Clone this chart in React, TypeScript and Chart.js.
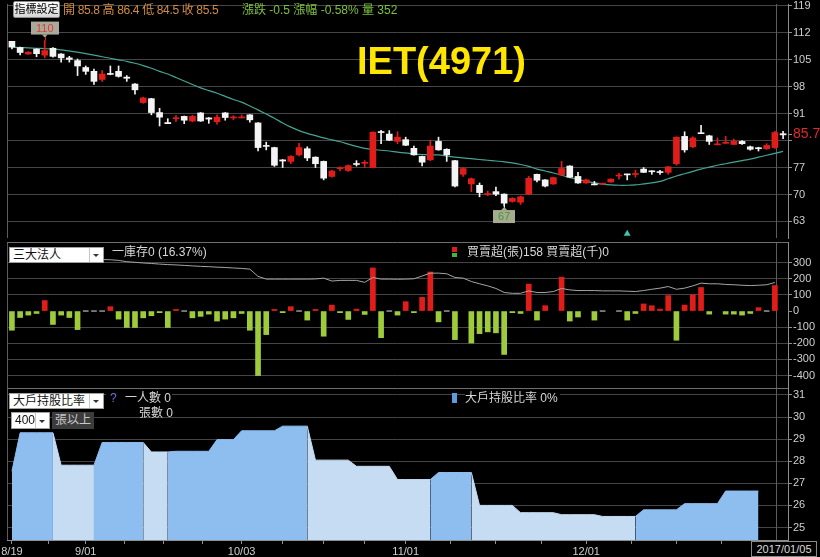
import React, { useEffect, useRef } from 'react';
import { Chart, registerables } from 'chart.js';

Chart.register(...registerables);

// ---------------- data ----------------
const X_MIN = -0.6;
const X_MAX = 94.6;
const DATE_TICK_IDX = [0, 9, 28, 48, 70];
const DATE_TICK_LABELS = ['8/19', '9/01', '10/03', '11/01', '12/01'];
const MINOR_TICK_IDX = [4.5, 13.75, 18.5, 23.25, 33, 38, 43, 53.5, 59, 64.5, 75.5, 81, 86.5];
const CURSOR_IDX = 93.15;
const CURSOR_DATE = '2017/01/05';

const OPEN = [
  109.8, 108.2, 106.5, 107.8, 106.2, 108.0, 106.5, 105.5, 104.8, 103.0,
  102.0, 99.9, 101.3, 102.0, 100.5, 98.7, 93.9, 94.9, 91.3, 88.7,
  89.7, 90.3, 89.1, 91.2, 89.9, 88.9, 91.2, 89.9, 89.9, 90.7,
  88.6, 82.7, 82.2, 79.0, 78.6, 80.3, 81.9, 79.7, 78.6, 74.7,
  76.7, 76.25, 78.0, 78.1, 77.0, 86.3, 85.7, 83.8, 84.25, 82.0,
  79.9, 79.0, 83.8, 81.75, 78.8, 75.25, 72.75, 72.4, 70.0, 70.75,
  70.1, 68.2, 68.0, 70.1, 75.25, 73.8, 72.75, 75.1, 77.4, 74.7,
  73.0, 72.7, 72.7, 73.25, 74.8, 75.3, 75.2, 76.6, 76.1, 75.8,
  75.75, 78.0, 85.1, 82.4, 86.0, 85.25, 82.9, 83.3, 83.0, 83.8,
  82.4, 82.1, 81.9, 82.2, 85.8,
];
const HIGH = [
  109.8, 108.3, 107.1, 107.9, 110.0, 108.2, 106.6, 105.9, 105.2, 103.4,
  102.6, 102.2, 103.4, 103.4, 100.9, 98.8, 95.3, 95.0, 92.4, 89.7,
  90.5, 90.4, 90.6, 91.3, 90.0, 90.7, 91.3, 90.5, 90.7, 90.8,
  88.7, 83.6, 82.3, 79.1, 80.1, 83.3, 82.4, 79.8, 78.7, 76.3,
  77.2, 77.7, 78.8, 78.8, 86.3, 86.7, 86.6, 86.3, 84.9, 82.6,
  80.0, 84.1, 84.9, 81.9, 78.9, 76.9, 74.3, 73.0, 70.9, 71.9,
  70.2, 69.2, 69.6, 74.7, 75.3, 73.9, 74.5, 78.6, 77.5, 75.75,
  74.0, 73.4, 72.9, 74.1, 75.5, 75.3, 76.3, 77.0, 76.2, 76.3,
  77.3, 85.0, 86.3, 85.0, 88.0, 85.4, 84.7, 85.1, 84.4, 84.0,
  82.6, 82.3, 83.2, 86.4, 86.4,
];
const LOW = [
  107.8, 106.3, 106.4, 105.8, 105.5, 105.7, 104.4, 104.4, 100.9, 101.2,
  98.6, 99.4, 101.1, 100.5, 99.4, 96.1, 93.7, 90.7, 87.8, 88.4,
  89.0, 88.4, 88.9, 89.0, 88.5, 88.3, 89.3, 89.4, 89.9, 88.8,
  81.3, 81.6, 77.3, 77.0, 78.0, 80.0, 78.8, 77.0, 73.8, 74.5,
  76.1, 76.0, 77.4, 77.0, 76.9, 83.2, 84.0, 83.2, 82.7, 80.2,
  77.4, 78.8, 81.5, 78.6, 72.0, 74.7, 70.75, 69.4, 69.7, 69.7,
  67.0, 68.0, 67.4, 70.0, 73.25, 72.0, 72.6, 75.0, 74.4, 72.9,
  72.9, 72.5, 72.7, 73.2, 74.0, 73.8, 74.5, 75.7, 75.25, 75.25,
  75.25, 77.6, 81.0, 82.2, 85.8, 83.0, 82.9, 83.3, 83.0, 83.0,
  81.5, 81.3, 81.7, 82.0, 84.5,
];
const CLOSE = [
  108.3, 106.9, 107.0, 106.6, 107.4, 105.9, 105.5, 105.1, 103.4, 102.0,
  99.4, 101.3, 101.2, 100.7, 100.2, 97.2, 95.1, 91.3, 90.1, 88.4,
  89.9, 89.3, 90.3, 89.1, 89.6, 90.1, 90.0, 90.0, 90.0, 89.4,
  82.2, 82.5, 77.6, 78.7, 79.9, 82.2, 79.5, 78.0, 74.25, 76.1,
  76.9, 77.5, 77.8, 78.3, 86.2, 86.1, 84.1, 84.9, 82.8, 80.3,
  78.4, 82.6, 81.6, 80.3, 72.2, 76.75, 74.1, 70.5, 70.2, 70.1,
  67.75, 69.0, 69.4, 74.2, 73.7, 72.2, 74.4, 76.75, 74.5, 73.0,
  73.8, 72.5, 72.85, 74.0, 75.0, 75.1, 75.3, 75.75, 75.9, 75.7,
  77.2, 84.9, 81.6, 84.7, 85.8, 83.8, 83.1, 83.5, 83.8, 83.2,
  81.75, 81.9, 82.75, 86.1, 85.5,
];
const MA20 = [
  108.3, 108.2, 108.1, 108.0, 107.9, 107.8, 107.6, 107.3, 107.0, 106.6,
  106.2, 105.8, 105.4, 105.0, 104.6, 104.1, 103.5, 102.8, 102.0, 101.3,
  100.4, 99.5, 98.6, 97.7, 97.0, 96.3, 95.5, 94.7, 94.0, 93.0,
  92.0, 90.9, 89.8, 88.6, 87.5, 86.6, 85.9, 85.3, 84.7, 84.2,
  83.7, 83.1, 82.5, 82.0, 81.7, 81.5, 81.3, 81.0, 80.8, 80.5,
  80.4, 80.3, 80.3, 80.0, 79.7, 79.5, 79.3, 79.1, 78.9, 78.7,
  78.5, 78.2, 77.8, 77.3, 76.6, 76.1, 75.6, 75.0, 74.4, 73.9,
  73.4, 73.0, 72.7, 72.5, 72.4, 72.4, 72.5, 72.75, 73.0, 73.4,
  74.1, 74.8, 75.4, 76.0, 76.6, 77.1, 77.6, 78.0, 78.4, 78.8,
  79.2, 79.7, 80.2, 80.7, 81.2,
];
const PRICE_TICKS = [63, 70, 77, 84, 85.7, 91, 98, 105, 112, 119];
const LAST_PRICE_TICK = 85.7;
const HIDDEN_PRICE_LABEL = 84;
const SIGNAL_IDX = [75];
const SIGNAL_PRICE = [59.8];

const NET_BUY = [
  -119, -40, -25, -15, 65, -83, -25, -40, -115, 0,
  0, 0, 27, -50, -102, -102, -42, -29, -10, -102,
  10, 0, -42, -33, -19, -62, -50, -42, -15, -119,
  -400, -146, 10, -10, 27, 0, -56, 10, -156, 37,
  -10, -52, 12, -21, 267, -165, 0, -25, 58, -10,
  85, 242, -67, 0, -177, null, -198, -140, -129, -135,
  -269, -10, -15, 167, -56, 33, null, 210, -62, -37,
  null, -56, 0, null, 0, -56, -15, 44, 33, 12,
  96, -181, 37, 100, 146, -19, null, -19, -19, -25,
  -15, 21, 0, 158, null,
];
const HOLDINGS = [
  322, 322, 321, 321, 321, 320, 320, 320, 319, 319,
  319, 319, 318, 314, 306, 302, 298, 295, 291, 288,
  286, 283, 280, 277, 275, 272, 270, 267, 264, 260,
  215, 198, 198, 198, 198, 198, 198, 199, 204, 186,
  190, 190, 190, 178, 208, 198, 198, 197, 198, 200,
  217, 235, 235, 231, 208, 204, 183, 169, 156, 140,
  115, 110, 110, 125, 115, 115, 121, 140, 131, 127,
  127, 127, 125, 125, 125, 123, 121, 127, 135, 142,
  152, 135, 142, 156, 173, 169, 169, 165, 163, 160,
  158, 160, 163, 177, null,
];
const NET_TICKS = [-400, -300, -200, -100, 0, 100, 200, 300];

const HOLDER_WEEK_START = [0, 1, 6, 11, 17, 20, 25, 28, 33, 37, 42, 47, 52, 57, 62, 67, 72, 77, 82, 87];
const HOLDER_WEEK_RATIO = [27.55, 29.29, 27.82, 28.85, 28.42, 28.45, 28.98, 29.38, 29.59, 28.05, 27.77, 27.17, 27.49, 26.0, 25.67, 25.58, 25.5, 25.8, 26.08, 26.65];
const HOLDER_LAST_IDX = 91;
const RATIO_TICKS = [25, 26, 27, 28, 29, 30, 31];

// ---------------- styles ----------------
const RED = '#e11d1a';
const WHITE = '#f4f4f4';
const GREEN_BAR = '#9dcb3b';
const ZERO_BAR = '#8a8a8a';
const GRID = '#454545';
const AXIS = '#8e8e8e';
const FRAME = '#5c5c5c';
const SEP = '#6e6e6e';
const TXT = '#cfcfcf';
const MA_COLOR = '#46a493';
const HOLD_COLOR = '#a5a5a5';
const AREA_UP = '#8ebdf0';
const AREA_DOWN = '#c6dcf3';
const TICK_FONT = { family: '"Liberation Sans", Arial, sans-serif', size: 11 };
const UI_FONT = '"Liberation Sans", "Noto Sans CJK TC", sans-serif';

const X_TICKS = [...DATE_TICK_IDX, ...MINOR_TICK_IDX].sort((a, b) => a - b);

function xScale(display: boolean): any {
  return {
    type: 'linear',
    min: X_MIN,
    max: X_MAX,
    offset: false,
    display,
    grid: { display, offset: false, drawOnChartArea: false, drawTicks: true, tickLength: 4, tickColor: AXIS },
    border: { display, color: AXIS },
    afterBuildTicks: (s: any) => { s.ticks = X_TICKS.map((v) => ({ value: v })); },
    afterFit: (s: any) => { if (display) s.height = 17; s.paddingLeft = 0; s.paddingRight = 0; },
    ticks: {
      display,
      autoSkip: false,
      maxRotation: 0,
      minRotation: 0,
      padding: 1,
      color: TXT,
      font: TICK_FONT,
      callback: (v: any) => {
        const k = DATE_TICK_IDX.indexOf(v);
        return k >= 0 ? DATE_TICK_LABELS[k] : '';
      },
    },
  };
}

function yScale(min: number, max: number, ticks: number[], extra: any = {}): any {
  return {
    type: 'linear',
    position: 'right',
    min,
    max,
    afterBuildTicks: (s: any) => { s.ticks = ticks.map((v) => ({ value: v })); },
    afterFit: (s: any) => { s.width = 32; s.paddingTop = 0; s.paddingBottom = 0; },
    grid: { color: extra.gridColor || GRID, tickColor: AXIS, tickLength: 4, drawTicks: true },
    border: { color: AXIS },
    ticks: {
      padding: 1,
      color: extra.tickColor || TXT,
      font: extra.tickFont || TICK_FONT,
      callback: extra.callback || ((v: any) => String(v)),
    },
  };
}

function drawTag(ctx: any, cx: number, tipY: number, text: string, textColor: string, fill: string, stem: string, below: boolean) {
  const w = text.length * 6 + 10;
  const h = 13;
  const gap = below ? 4 : 6;
  const top = below ? tipY + gap : tipY - gap - h;
  ctx.save();
  ctx.strokeStyle = stem;
  ctx.lineWidth = 1;
  ctx.beginPath();
  const sx = Math.round(cx) + 0.5;
  if (below) { ctx.moveTo(sx, tipY); ctx.lineTo(sx, top); } else { ctx.moveTo(sx, tipY); ctx.lineTo(sx, top + h); }
  ctx.stroke();
  ctx.fillStyle = fill;
  ctx.fillRect(Math.round(cx - w / 2), top, w, h);
  ctx.beginPath();
  if (below) { ctx.moveTo(cx - 3, top); ctx.lineTo(cx + 3, top); ctx.lineTo(cx, top - 3); }
  else { ctx.moveTo(cx - 3, top + h); ctx.lineTo(cx + 3, top + h); ctx.lineTo(cx, top + h + 3); }
  ctx.closePath();
  ctx.fill();
  ctx.fillStyle = textColor;
  ctx.font = '11px "Liberation Sans", Arial, sans-serif';
  ctx.textAlign = 'center';
  ctx.textBaseline = 'middle';
  ctx.fillText(text, cx, top + h / 2 + 0.5);
  ctx.restore();
}

const overlayPlugin: any = {
  id: 'overlay',
  beforeDatasetsDraw(chart: any, _a: any, opts: any) {
    const { ctx, chartArea: a } = chart;
    const xs = chart.scales.x;
    ctx.save();
    ctx.lineWidth = 1;
    ctx.strokeStyle = FRAME;
    ctx.beginPath();
    ctx.moveTo(a.left + 0.5, a.top);
    ctx.lineTo(a.left + 0.5, a.bottom);
    const cx = Math.round(xs.getPixelForValue(CURSOR_IDX)) + 0.5;
    ctx.moveTo(cx, a.top);
    ctx.lineTo(cx, a.bottom);
    ctx.stroke();
    if (opts && opts.topLine) {
      ctx.strokeStyle = SEP;
      ctx.beginPath();
      ctx.moveTo(a.left, a.top + 0.5);
      ctx.lineTo(a.right, a.top + 0.5);
      ctx.stroke();
    }
    ctx.restore();
  },
  afterDatasetsDraw(chart: any, _a: any, opts: any) {
    if (!opts || !opts.extremes) return;
    const xs = chart.scales.x;
    const ys = chart.scales.y;
    const hi = Math.max(...HIGH);
    const lo = Math.min(...LOW);
    const hiIdx = HIGH.indexOf(hi);
    const loIdx = LOW.indexOf(lo);
    const hiColor = CLOSE[hiIdx] > OPEN[hiIdx] ? RED : WHITE;
    const loColor = CLOSE[loIdx] > OPEN[loIdx] ? RED : WHITE;
    drawTag(chart.ctx, xs.getPixelForValue(hiIdx), ys.getPixelForValue(hi), String(Math.round(hi)), '#e23a3a', '#a9a99a', hiColor, false);
    drawTag(chart.ctx, xs.getPixelForValue(loIdx), ys.getPixelForValue(lo), String(Math.round(lo)), '#3f9a38', '#a6aa90', loColor, true);
  },
};

function Dropdown({ left, top, width, height, text }: any) {
  return (
    <div style={{ position: 'absolute', left, top, width, height, boxSizing: 'border-box', background: '#fff', border: '1px solid #a0a0a0', font: `12px ${UI_FONT}`, color: '#111', lineHeight: `${height - 2}px`, paddingLeft: 3, whiteSpace: 'nowrap', overflow: 'hidden' }}>
      {text}
      <div style={{ position: 'absolute', right: 0, top: 0, bottom: 0, width: 13, borderLeft: '1px solid #c8c8c8', background: '#fff' }}>
        <div style={{ position: 'absolute', left: 3, top: Math.round((height - 2) / 2) - 1, width: 0, height: 0, borderLeft: '3px solid transparent', borderRight: '3px solid transparent', borderTop: '3px solid #333' }} />
      </div>
    </div>
  );
}

export default function App() {
  const topRef = useRef<HTMLCanvasElement>(null);
  const midRef = useRef<HTMLCanvasElement>(null);
  const botRef = useRef<HTMLCanvasElement>(null);

  useEffect(() => {
    const idx = OPEN.map((_, i) => i);
    const up = idx.map((i) => CLOSE[i] > OPEN[i]);
    const candleColor = idx.map((i) => (up[i] ? RED : WHITE));

    const top = new Chart(topRef.current as any, {
      type: 'bar',
      data: {
        datasets: [
          {
            type: 'bar',
            data: idx.map((i) => ({ x: i, y: [OPEN[i], CLOSE[i]] })),
            backgroundColor: candleColor,
            barThickness: 6,
            minBarLength: 1,
            grouped: false,
            order: 1,
          } as any,
          {
            type: 'bar',
            data: idx.map((i) => ({ x: i, y: [LOW[i], HIGH[i]] })),
            backgroundColor: candleColor,
            barThickness: 1,
            grouped: false,
            order: 2,
          } as any,
          {
            type: 'line',
            data: idx.map((i) => ({ x: i, y: MA20[i] })),
            borderColor: MA_COLOR,
            borderWidth: 1.2,
            pointRadius: 0,
            tension: 0.3,
            order: 3,
          } as any,
          {
            type: 'line',
            data: SIGNAL_IDX.map((v, k) => ({ x: v, y: SIGNAL_PRICE[k] })),
            showLine: false,
            pointStyle: 'triangle',
            pointRadius: 4,
            pointBackgroundColor: '#3fc4b2',
            pointBorderWidth: 0,
            order: 0,
          } as any,
        ],
      },
      options: {
        responsive: false,
        animation: false,
        events: [],
        layout: { padding: { left: 7, right: 0, top: 0, bottom: 0 } },
        plugins: { legend: { display: false }, tooltip: { enabled: false }, overlay: { extremes: true } } as any,
        scales: {
          x: xScale(false),
          y: yScale(58.7, 119.5, PRICE_TICKS, {
            gridColor: (c: any) => (c.tick && c.tick.value === LAST_PRICE_TICK ? 'rgba(0,0,0,0)' : GRID),
            tickColor: (c: any) => (c.tick && c.tick.value === LAST_PRICE_TICK ? '#e22a2a' : TXT),
            tickFont: (c: any) => ({ ...TICK_FONT, size: c.tick && c.tick.value === LAST_PRICE_TICK ? 14 : 11 }),
            callback: (v: any) => (v === HIDDEN_PRICE_LABEL ? '' : String(v)),
          }),
        },
      } as any,
      plugins: [overlayPlugin],
    });

    const mid = new Chart(midRef.current as any, {
      type: 'bar',
      data: {
        datasets: [
          {
            type: 'bar',
            data: idx.map((i) => ({ x: i, y: NET_BUY[i] })),
            backgroundColor: NET_BUY.map((v) => (v === null ? GREEN_BAR : v > 0 ? RED : v < 0 ? GREEN_BAR : ZERO_BAR)),
            barThickness: 5,
            minBarLength: 1,
            grouped: false,
            order: 2,
          } as any,
          {
            type: 'line',
            data: idx.map((i) => ({ x: i, y: HOLDINGS[i] })),
            borderColor: HOLD_COLOR,
            borderWidth: 1,
            pointRadius: 0,
            tension: 0,
            order: 1,
          } as any,
        ],
      },
      options: {
        responsive: false,
        animation: false,
        events: [],
        layout: { padding: { left: 7, right: 0, top: 0, bottom: 0 } },
        plugins: { legend: { display: false }, tooltip: { enabled: false }, overlay: { topLine: true } } as any,
        scales: {
          x: xScale(false),
          y: yScale(-477, 428, NET_TICKS, {
            gridColor: (c: any) => (c.tick && c.tick.value === 0 ? 'rgba(0,0,0,0)' : GRID),
          }),
        },
      } as any,
      plugins: [overlayPlugin],
    });

    const ratioDays: number[] = [];
    const ratioUp: boolean[] = [];
    for (let i = 0; i <= HOLDER_LAST_IDX; i++) {
      let k = 0;
      for (let j = 0; j < HOLDER_WEEK_START.length; j++) if (HOLDER_WEEK_START[j] <= i) k = j;
      ratioDays.push(HOLDER_WEEK_RATIO[k]);
      ratioUp.push(k === 0 || HOLDER_WEEK_RATIO[k] >= HOLDER_WEEK_RATIO[k - 1]);
    }
    const segColor = (c: any) => (ratioUp[c.p1DataIndex] ? AREA_UP : AREA_DOWN);

    const bot = new Chart(botRef.current as any, {
      type: 'line',
      data: {
        datasets: [
          {
            data: ratioDays.map((v, i) => ({ x: i, y: v })),
            borderColor: AREA_UP,
            backgroundColor: AREA_UP,
            borderWidth: 1,
            pointRadius: 0,
            tension: 0,
            fill: 'start',
            segment: { backgroundColor: segColor, borderColor: segColor },
          } as any,
        ],
      },
      options: {
        responsive: false,
        animation: false,
        events: [],
        layout: { padding: { left: 7, right: 0, top: 0, bottom: 0 } },
        plugins: { legend: { display: false }, tooltip: { enabled: false }, overlay: { topLine: true } } as any,
        scales: {
          x: xScale(true),
          y: yScale(24.433, 31.317, RATIO_TICKS),
        },
      } as any,
      plugins: [overlayPlugin],
    });

    return () => {
      top.destroy();
      mid.destroy();
      bot.destroy();
    };
  }, []);

  const legendText: any = { position: 'absolute', font: `12px ${UI_FONT}`, color: '#d8d8d8', whiteSpace: 'nowrap', lineHeight: '14px' };

  return (
    <div style={{ position: 'fixed', left: 0, top: 0, width: 820, height: 557, background: '#000', overflow: 'hidden' }}>
      <canvas ref={topRef} width={820} height={242} style={{ position: 'absolute', left: 0, top: 0 }} />
      <canvas ref={midRef} width={820} height={146} style={{ position: 'absolute', left: 0, top: 242 }} />
      <canvas ref={botRef} width={820} height={169} style={{ position: 'absolute', left: 0, top: 388 }} />

      {/* header */}
      <div style={{ position: 'absolute', left: 13, top: 1, width: 47, height: 17, boxSizing: 'border-box', border: '1px solid #8a8a8a', borderRadius: 2, background: 'linear-gradient(#ffffff, #d6d6d6)', font: `11px ${UI_FONT}`, color: '#000', textAlign: 'center', lineHeight: '15px', whiteSpace: 'nowrap', overflow: 'hidden' }}>指標設定</div>
      <div style={{ ...legendText, left: 63, top: 3, color: '#d08c42', letterSpacing: '-0.35px' }}>開 85.8 高 86.4 低 84.5 收 85.5</div>
      <div style={{ ...legendText, left: 242, top: 3, color: '#7cc23c' }}>漲跌 -0.5 漲幅 -0.58% 量 352</div>
      <div style={{ position: 'absolute', left: 357, top: 42, font: `bold 38px "Liberation Sans", Arial, sans-serif`, lineHeight: '38px', color: '#ffe600', whiteSpace: 'nowrap' }}>IET(4971)</div>

      {/* institutional panel */}
      <Dropdown left={9} top={247} width={95} height={16} text="三大法人" />
      <div style={{ ...legendText, left: 112, top: 245 }}>一庫存0 (16.37%)</div>
      <div style={{ position: 'absolute', left: 452, top: 247, width: 5, height: 5, background: RED }} />
      <div style={{ position: 'absolute', left: 452, top: 253, width: 5, height: 4, background: '#3fb83a' }} />
      <div style={{ ...legendText, left: 467, top: 245 }}>買賣超(張)158 買賣超(千)0</div>

      {/* holder panel */}
      <Dropdown left={9} top={393} width={95} height={16} text="大戶持股比率" />
      <div style={{ position: 'absolute', left: 106, top: 391, width: 66, height: 13, background: '#000' }} />
      <div style={{ ...legendText, left: 110, top: 391, color: '#6f6fe8' }}>?</div>
      <div style={{ ...legendText, left: 125, top: 391 }}>一人數 0</div>
      <div style={{ ...legendText, left: 139, top: 406 }}>張數 0</div>
      <Dropdown left={11} top={412} width={39} height={17} text="400" />
      <div style={{ position: 'absolute', left: 52, top: 412, width: 42, height: 17, background: '#3c3c3c', color: '#c8c8c8', font: `12px ${UI_FONT}`, lineHeight: '17px', textAlign: 'center' }}>張以上</div>
      <div style={{ position: 'absolute', left: 452, top: 393, width: 5, height: 10, background: '#5b9be0' }} />
      <div style={{ ...legendText, left: 465, top: 391, background: '#000', paddingRight: 2 }}>大戶持股比率 0%</div>

      {/* cursor date */}
      <div style={{ position: 'absolute', left: 751, top: 541, width: 66, height: 16, boxSizing: 'border-box', border: '1px solid #8a8a8a', background: '#000', color: '#dcdcdc', font: '11px "Liberation Sans", Arial, sans-serif', lineHeight: '14px', textAlign: 'center' }}>{CURSOR_DATE}</div>
    </div>
  );
}
